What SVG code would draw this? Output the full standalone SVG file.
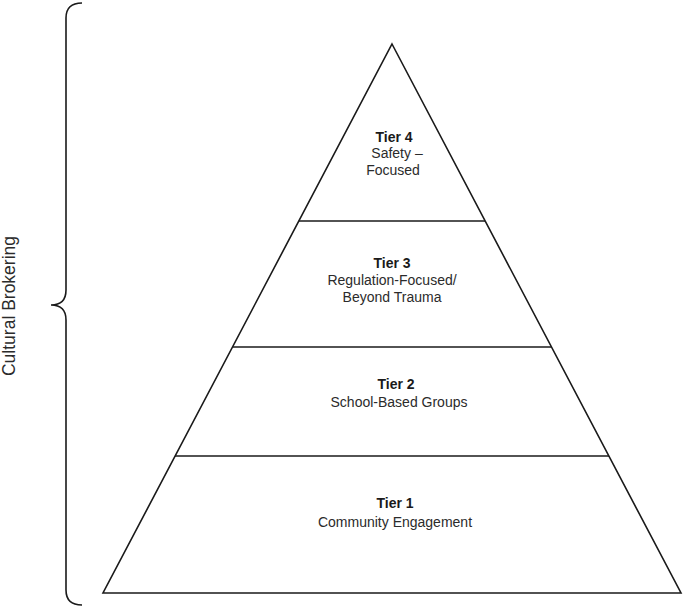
<svg xmlns="http://www.w3.org/2000/svg" width="685" height="607" viewBox="0 0 685 607">
<style>
.ln{fill:none;stroke:#1a1a1a;stroke-width:1.6;stroke-linejoin:miter}
.t{font-family:"Liberation Sans",Arial,sans-serif;font-size:14px;fill:#2b2b2b;text-anchor:middle}
.b{font-weight:bold;fill:#1a1a1a}
</style>
<rect width="685" height="607" fill="#ffffff"/>
<g id="pyramid">
<polygon class="ln" points="392,44 681,593 103,593"/>
</g>
<g id="connectors">
<line class="ln" x1="299" y1="221" x2="485" y2="221"/>
<line class="ln" x1="233" y1="347" x2="551" y2="347"/>
<line class="ln" x1="175" y1="456" x2="609" y2="456"/>
</g>
<g id="tier4">
<text class="t b" x="394" y="142">Tier 4</text>
<text class="t" x="397" y="158">Safety –</text>
<text class="t" x="393" y="175">Focused</text>
</g>
<g id="tier3">
<text class="t b" x="392" y="268">Tier 3</text>
<text class="t" x="392" y="285">Regulation-Focused/</text>
<text class="t" x="392" y="302">Beyond Trauma</text>
</g>
<g id="tier2">
<text class="t b" x="396" y="389">Tier 2</text>
<text class="t" x="399" y="407">School-Based Groups</text>
</g>
<g id="tier1">
<text class="t b" x="395" y="508">Tier 1</text>
<text class="t" x="395" y="527">Community Engagement</text>
</g>
<g id="brace">
<path class="ln" d="M82,3 Q66,3 66,18 L66,290 Q66,305 51,305 Q66,305 66,320 L66,590 Q66,605 82,605"/>
<text class="t" style="font-size:17.5px" transform="translate(15,306) rotate(-90)">Cultural Brokering</text>
</g>
</svg>
